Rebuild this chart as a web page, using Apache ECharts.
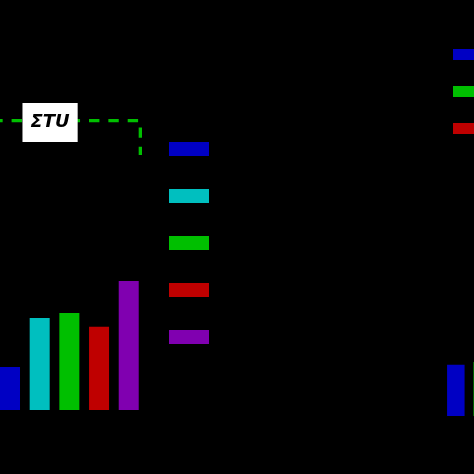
<!DOCTYPE html>
<html>
<head>
<meta charset="utf-8">
<script src="https://cdn.jsdelivr.net/npm/echarts@6/dist/echarts.min.js"></script>
<style>html,body{margin:0;padding:0;background:#000;}#c{width:474px;height:474px;}</style>
</head>
<body>
<div id="c"></div>
<script>
// ---- data ----
const leftCategories = ['A', 'B', 'C', 'D', 'E'];
const leftPositions = [0, 1, 2, 3, 4];
const leftValues = [13.0, 27.9, 29.4, 25.2, 39.1];
const rightNames = ['P', 'Q', 'R'];
const rightPosition = 0;
const rightValues = [15.5, 16.4, 14.0];
const bracketX = [-0.598, 4.391, 4.391];
const bracketY = [87.67, 87.67, 77.27];
const labelText = 'ΣTU';
const labelPos = [1.35, 87.1];

// ---- styles ----
const leftColors = ['#0000C4', '#00BFBF', '#00BF00', '#BF0000', '#8000B0'];
const rightColors = ['#0000C4', '#00BF00', '#BF0000'];

const chart = echarts.init(document.getElementById('c'), null, {renderer: 'canvas'});

const series = [];
leftCategories.forEach((name, i) => {
  series.push({
    name: name,
    type: 'bar',
    xAxisIndex: 0, yAxisIndex: 0,
    stack: 'left',
    barWidth: 20,
    itemStyle: {color: leftColors[i]},
    data: [[leftPositions[i], leftValues[i]]],
    animation: false
  });
});
rightNames.forEach((name, i) => {
  series.push({
    name: name,
    type: 'bar',
    xAxisIndex: 1, yAxisIndex: 1,
    barWidth: 17.5,
    barGap: '51%',
    itemStyle: {color: rightColors[i]},
    data: [[rightPosition, rightValues[i]]],
    animation: false
  });
});
series.push({
  type: 'line',
  xAxisIndex: 0, yAxisIndex: 0,
  data: bracketX.map((x, i) => [x, bracketY[i]]),
  symbol: 'none',
  lineStyle: {color: '#00BF00', width: 3.3, type: [10.4, 8.95]},
  z: 5,
  animation: false
});
series.push({
  type: 'scatter',
  xAxisIndex: 0, yAxisIndex: 0,
  data: [labelPos],
  symbolSize: 1,
  itemStyle: {color: 'rgba(0,0,0,0)', opacity: 1},
  label: {
    show: true,
    position: 'inside',
    formatter: labelText,
    color: '#000',
    opacity: 1,
    fontFamily: 'DejaVu Sans',
    fontWeight: 'bold',
    fontStyle: 'italic',
    fontSize: 18,
    lineHeight: 21,
    backgroundColor: '#fff',
    padding: [9, 8, 9, 8]
  },
  z: 10,
  animation: false
});

chart.setOption({
  backgroundColor: '#000',
  animation: false,
  grid: [
    {left: 0, top: 80, width: 143.56, height: 330},
    {left: 440, top: 86, right: 0, height: 330}
  ],
  xAxis: [
    {type: 'value', gridIndex: 0, min: -0.337, max: 4.5, show: false},
    {type: 'value', gridIndex: 1, min: -42.25, max: -8.25, show: false}
  ],
  yAxis: [
    {type: 'value', gridIndex: 0, min: 0, max: 100, show: false},
    {type: 'value', gridIndex: 1, min: 0, max: 100, show: false}
  ],
  legend: [
    {
      data: leftCategories,
      orient: 'vertical',
      left: 169, top: 142,
      padding: 0,
      icon: 'rect',
      itemWidth: 40, itemHeight: 14, itemGap: 33,
      selectedMode: false,
      formatter: () => '',
      textStyle: {fontSize: 1, lineHeight: 1, color: '#000'}
    },
    {
      data: rightNames,
      orient: 'vertical',
      left: 453, top: 49,
      padding: 0,
      icon: 'rect',
      itemWidth: 40, itemHeight: 11, itemGap: 26,
      selectedMode: false,
      formatter: () => '',
      textStyle: {fontSize: 1, lineHeight: 1, color: '#000'}
    }
  ],
  series: series
});
</script>
</body>
</html>
